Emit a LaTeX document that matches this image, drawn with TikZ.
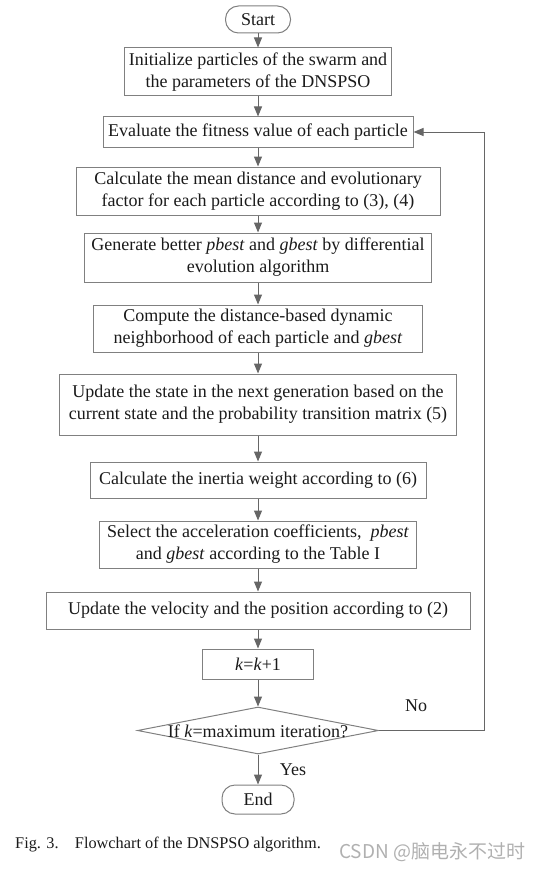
\documentclass[tikz,border=0pt]{standalone}
\usepackage{fontspec}
\setmainfont{Liberation Serif}
\newfontfamily\cjk{Noto Sans CJK SC}
\usetikzlibrary{shapes.geometric,arrows.meta}
\definecolor{edgegray}{HTML}{808080}
\definecolor{arrgray}{HTML}{666666}
\definecolor{txt}{HTML}{1A1A1A}
\definecolor{wm}{HTML}{B0B0B0}
\begin{document}
\begin{tikzpicture}[x=1pt,y=-1pt,
  every node/.style={font=\fontsize{18}{22}\selectfont, text=txt},
  procbox/.style={draw=edgegray, line width=1pt, rectangle, align=center, inner sep=0pt},
  termbox/.style={draw=edgegray, line width=1pt, rectangle, rounded corners=13pt, inner sep=0pt},
  flow/.style={draw=arrgray, line width=1pt, -{Triangle[length=10pt,width=8pt]}},
  lbl/.style={inner sep=0pt}
]
\useasboundingbox (0,0) rectangle (546,872);

\node[termbox, minimum width=65pt, minimum height=27pt] (start) at (258,19.5) {Start};
\node[procbox, minimum width=267pt, minimum height=48pt] (init) at (258,72) {Initialize particles of the swarm and\\the parameters of the DNSPSO};
\node[procbox, minimum width=310pt, minimum height=30pt] (eval) at (258,132) {Evaluate the fitness value of each particle};
\node[procbox, minimum width=364pt, minimum height=48pt] (calc) at (258,191) {Calculate the mean distance and evolutionary\\factor for each particle according to (3), (4)};
\node[procbox, minimum width=347pt, minimum height=49pt] (gen) at (258,257.5) {Generate better \textit{pbest} and \textit{gbest} by differential\\evolution algorithm};
\node[procbox, minimum width=329pt, minimum height=47pt] (comp) at (258,328.5) {Compute the distance-based dynamic\\neighborhood of each particle and \textit{gbest}};
\node[procbox, minimum width=397pt, minimum height=61pt] (upd) at (258,404.5) {Update the state in the next generation based on the\\current state and the probability transition matrix (5)};
\node[procbox, minimum width=336pt, minimum height=36pt] (iner) at (258,480) {Calculate the inertia weight according to (6)};
\node[procbox, minimum width=317pt, minimum height=47pt] (sel) at (258,544.5) {Select the acceleration coefficients, \ \textit{pbest}\\and \textit{gbest} according to the Table I};
\node[procbox, minimum width=424pt, minimum height=37pt] (vel) at (258,610.5) {Update the velocity and the position according to (2)};
\node[procbox, minimum width=111pt, minimum height=30pt] (kk) at (258,664) {\textit{k}=\textit{k}+1};
\node[draw=edgegray, line width=1pt, diamond, inner sep=0pt, minimum width=241pt, minimum height=47pt] (dia) at (258,730.5) {};
\node[lbl] (diatext) at (258,731) {If \textit{k}=maximum iteration?};
\node[termbox, minimum width=72pt, minimum height=29pt] (end) at (258,799.5) {End};

\coordinate (loopx) at (484,0);

\draw[flow] (start) -- (init);
\draw[flow] (init) -- (eval);
\draw[flow] (eval) -- (calc);
\draw[flow] (calc) -- (gen);
\draw[flow] (gen) -- (comp);
\draw[flow] (comp) -- (upd);
\draw[flow] (upd) -- (iner);
\draw[flow] (iner) -- (sel);
\draw[flow] (sel) -- (vel);
\draw[flow] (vel) -- (kk);
\draw[flow] (kk) -- (dia.north);
\draw[flow] (dia.south) -- (end);
\draw[flow] (dia.east) -- (dia.east -| loopx) -- (loopx |- eval.east) -- (eval.east);

\node[lbl] (no) at (416,706) {No};
\node[lbl] (yes) at (293,770) {Yes};

\node[lbl, anchor=west, font=\fontsize{16.3}{19}\selectfont] (cap) at (15,845) {Fig. 3.\quad Flowchart of the DNSPSO algorithm.};
\node[lbl, anchor=west, text=wm, font=\fontsize{19}{22}\selectfont\cjk] (wmark) at (339,852) {CSDN @脑电永不过时};
\end{tikzpicture}
\end{document}
